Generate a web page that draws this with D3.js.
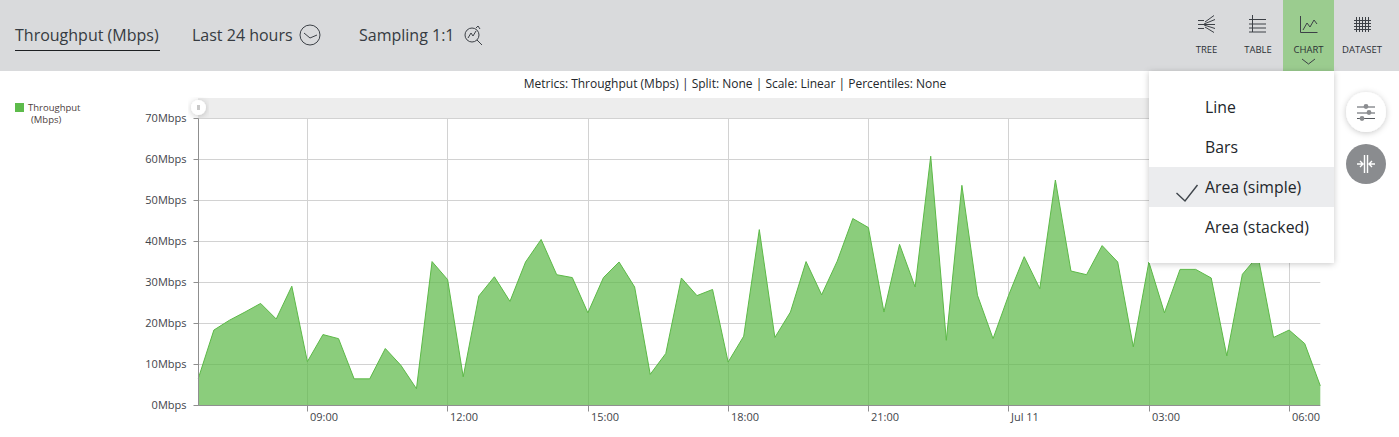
<!DOCTYPE html>
<html>
<head>
<meta charset="utf-8">
<script src="https://cdn.jsdelivr.net/npm/d3@7"></script>
<style>
  html, body { margin: 0; padding: 0; background: #fff; overflow: hidden; }
  svg { display: block; font-family: "Open Sans", sans-serif; }
  .grid line { stroke: #d2d2d2; stroke-width: 1; }
  .axis text { font-size: 11px; fill: #3f454b; font-family: "Open Sans", sans-serif; }
  .axis line, .axis path { stroke: #8f8f8f; }
  .menu-item { font-size: 15.8px; fill: #22262b; }
  .tool-label { font-size: 9.5px; fill: #2c3036; text-anchor: middle; }
  .icon { fill: none; stroke: #3c4046; stroke-width: 1; }
</style>
</head>
<body>
<svg id="chart" width="1399" height="437"></svg>
<script>
var title = "Metrics: Throughput (Mbps) | Split: None | Scale: Linear | Percentiles: None";
var seriesName = ["Throughput", "(Mbps)"];
var tabs = ["Throughput (Mbps)", "Last 24 hours", "Sampling 1:1"];
var tools = ["TREE", "TABLE", "CHART", "DATASET"];
var menuItems = ["Line", "Bars", "Area (simple)", "Area (stacked)"];

// one sample every 20 minutes from 06:40 on Jul 10
var startTime = new Date(2021, 6, 10, 6, 40);
var stepMinutes = 20;
var throughput = [
  6.6, 18.4, 20.8, 22.8, 24.9, 21.1, 29.1, 10.7, 17.3, 16.3,
  6.5, 6.5, 13.9, 9.8, 4.1, 35.1, 30.7, 7.0, 26.7, 31.4,
  25.4, 35.0, 40.5, 31.9, 31.2, 22.6, 31.2, 35.0, 28.9, 7.6,
  12.7, 31.1, 26.8, 28.3, 10.6, 16.9, 42.9, 16.6, 22.8, 35.1,
  27.0, 35.2, 45.6, 43.4, 22.8, 39.3, 28.9, 60.8, 15.9, 53.7,
  26.9, 16.3, 26.9, 36.3, 28.5, 55.0, 32.8, 31.9, 39.0, 35.0,
  14.3, 35.0, 22.6, 33.2, 33.2, 31.1, 12.1, 32.0, 36.5, 16.6,
  18.4, 15.1, 4.8
];
var yTicks = [0, 10, 20, 30, 40, 50, 60, 70];
var xTickHours = [[10, 9], [10, 12], [10, 15], [10, 18], [10, 21], [11, 0], [11, 3], [11, 6]];
var xTickLabels = ["09:00", "12:00", "15:00", "18:00", "21:00", "Jul 11", "03:00", "06:00"];

var svg = d3.select("#chart");

var x = d3.scaleTime()
  .domain([startTime, d3.timeMinute.offset(startTime, stepMinutes * (throughput.length - 1))])
  .range([198.3, 1320.3]);
var y = d3.scaleLinear().domain([0, 70]).range([405.5, 118.5]);

var points = throughput.map(function (v, i) {
  return { t: d3.timeMinute.offset(startTime, stepMinutes * i), v: v };
});
var xTicks = xTickHours.map(function (d) { return new Date(2021, 6, d[0], d[1]); });

function crisp(d) {
  return Math.floor(x(d) + 0.2) + 0.5;
}

// header bar
svg.append("rect").attr("width", 1399).attr("height", 71).attr("fill", "#d9dadc");
svg.append("text").attr("x", 15).attr("y", 41).attr("font-size", 16).attr("fill", "#363b41").text(tabs[0]);
svg.append("line").attr("x1", 15).attr("x2", 160).attr("y1", 50.5).attr("y2", 50.5).attr("stroke", "#1d1f22");
svg.append("text").attr("x", 192).attr("y", 41).attr("font-size", 16).attr("fill", "#363b41").text(tabs[1]);
svg.append("text").attr("x", 359).attr("y", 41).attr("font-size", 16).attr("fill", "#363b41").text(tabs[2]);

// clock icon
svg.append("circle").attr("class", "icon").attr("cx", 310).attr("cy", 35).attr("r", 10);
svg.append("path").attr("class", "icon").attr("d", "M304 33L310 38L317 35");
// sampling icon
svg.append("circle").attr("class", "icon").attr("cx", 472).attr("cy", 35).attr("r", 7);
svg.append("path").attr("class", "icon").attr("d", "M477 40L482 45M468 38L471 33L473 36L476 31M476 28L478 26L480 29");

// chart tab and tool labels
svg.append("rect").attr("x", 1283).attr("width", 51).attr("height", 71).attr("fill", "#9bcc8f");
var toolX = [1206.5, 1258, 1308.5, 1362];
svg.selectAll(".tool-label").data(tools).enter().append("text")
  .attr("class", "tool-label")
  .attr("x", function (d, i) { return toolX[i]; })
  .attr("y", 53)
  .text(function (d) { return d; });

// tool icons
svg.append("path").attr("class", "icon")
  .attr("d", "M1205 22L1214 15.5M1204 24L1215 19.5M1198 24.5H1215M1204 25L1215 28.5M1205 27L1214 32.5M1198 20.5H1204M1198 28.5H1204");
svg.append("path").attr("class", "icon")
  .attr("d", "M1252.5 15V32M1249 19.5H1266M1249 24H1266M1249 28H1266M1249 32H1266");
svg.append("path").attr("class", "icon")
  .attr("d", "M1300.5 16V32.5H1317.5M1303 30L1307 23L1310 27L1314 20L1317 24");
svg.append("path").attr("class", "icon")
  .attr("d", "M1356.5 17V32M1359.5 17V32M1362.5 17V32M1365.5 17V32M1368.5 17V32M1354 20.5H1371M1354 23.5H1371M1354 26.5H1371M1354 29.5H1371");
svg.append("path").attr("class", "icon").attr("d", "M1302 59L1308.5 64L1315 59");

// legend
svg.append("rect").attr("x", 15).attr("y", 103).attr("width", 9).attr("height", 9).attr("fill", "#5dbb4b");
svg.append("text").attr("x", 28).attr("y", 111).attr("font-size", 9.5).attr("fill", "#4d4040").text(seriesName[0]);
svg.append("text").attr("x", 31).attr("y", 123).attr("font-size", 9.5).attr("fill", "#4d4040").text(seriesName[1]);

// title
svg.append("text").attr("x", 735).attr("y", 88).attr("text-anchor", "middle")
  .attr("font-size", 12).attr("fill", "#23272b").text(title);

// range strip above the plot
svg.append("rect").attr("x", 198).attr("y", 98).attr("width", 1122).attr("height", 21).attr("fill", "#ededed");

// grid
var grid = svg.append("g").attr("class", "grid");
grid.selectAll(".h").data(yTicks.slice(1)).enter().append("line")
  .attr("x1", x.range()[0]).attr("x2", x.range()[1])
  .attr("y1", function (d) { return y(d); }).attr("y2", function (d) { return y(d); });
grid.selectAll(".v").data(xTicks).enter().append("line")
  .attr("x1", crisp)
  .attr("x2", crisp)
  .attr("y1", y(70)).attr("y2", y(0));

// area
var area = d3.area()
  .x(function (d) { return x(d.t); })
  .y0(y(0))
  .y1(function (d) { return y(d.v); });
var line = d3.line()
  .x(function (d) { return x(d.t); })
  .y(function (d) { return y(d.v); });
svg.append("path").datum(points).attr("d", area).attr("fill", "#5cb947").attr("fill-opacity", 0.71);
svg.append("path").datum(points).attr("d", line).attr("fill", "none").attr("stroke", "#5cb947").attr("stroke-width", 1);

// axes
var yAxis = svg.append("g").attr("class", "axis").attr("transform", "translate(198.5,0)")
  .call(d3.axisLeft(y).offset(0).tickValues(yTicks).tickSize(5).tickPadding(7).tickFormat(function (d) { return d + "Mbps"; }));
yAxis.select(".domain").attr("d", "M0," + y(70) + "V" + y(0));
yAxis.selectAll("text").attr("y", -0.5);

var xAxis = svg.append("g").attr("class", "axis").attr("transform", "translate(0,405.5)")
  .call(d3.axisBottom(x).offset(0).tickValues(xTicks).tickSize(6).tickSizeOuter(0)
    .tickFormat(function (d, i) { return xTickLabels[i]; }));
xAxis.selectAll(".tick").attr("transform", function (d) { return "translate(" + crisp(d) + ",0)"; });
xAxis.selectAll("text").attr("text-anchor", "start").attr("dx", 2.5).attr("y", 15).attr("dy", 0);

// shadow for the popups
var defs = svg.append("defs");
var shadow = defs.append("filter").attr("id", "shadow")
  .attr("x", "-20%").attr("y", "-20%").attr("width", "140%").attr("height", "140%");
shadow.append("feDropShadow").attr("dx", 0).attr("dy", 1).attr("stdDeviation", 3)
  .attr("flood-color", "#000").attr("flood-opacity", 0.22);

// brush handle
svg.append("circle").attr("cx", 198.5).attr("cy", 107.5).attr("r", 7.5).attr("fill", "#fff").attr("filter", "url(#shadow)");
svg.append("rect").attr("x", 197).attr("y", 105).attr("width", 3).attr("height", 5).attr("fill", "#c8c8c8");

// chart type menu
svg.append("rect").attr("x", 1149).attr("y", 71).attr("width", 185).attr("height", 192).attr("fill", "#fff").attr("filter", "url(#shadow)");
svg.append("rect").attr("x", 1149).attr("y", 167).attr("width", 185).attr("height", 40).attr("fill", "#ebecee");
svg.selectAll(".menu-item").data(menuItems).enter().append("text")
  .attr("class", "menu-item")
  .attr("x", 1205)
  .attr("y", function (d, i) { return 112.5 + i * 40; })
  .text(function (d) { return d; });
svg.append("path").attr("d", "M1176.5 193L1185 201L1197.5 185").attr("fill", "none").attr("stroke", "#3f454b").attr("stroke-width", 1.4);

// side buttons
svg.append("circle").attr("cx", 1366).attr("cy", 112).attr("r", 20).attr("fill", "#fff").attr("filter", "url(#shadow)");
svg.append("path").attr("d", "M1357 107H1375M1357 113H1375M1357 118.5H1375").attr("fill", "none").attr("stroke", "#55595e");
svg.selectAll(".knob").data([[1366, 106.5], [1369, 112.5], [1362, 118.5]]).enter().append("circle")
  .attr("cx", function (d) { return d[0]; }).attr("cy", function (d) { return d[1]; })
  .attr("r", 2.4).attr("fill", "#8b8d90");
svg.append("circle").attr("cx", 1366).attr("cy", 164).attr("r", 20).attr("fill", "#8a8c8f");
svg.append("path").attr("d", "M1364.5 155V173M1367.5 155V173M1357 164H1362.5M1369.5 164H1375M1360 161L1363 164L1360 167M1372 161L1369 164L1372 167")
  .attr("fill", "none").attr("stroke", "#fff").attr("stroke-width", 1.4);
</script>
</body>
</html>
